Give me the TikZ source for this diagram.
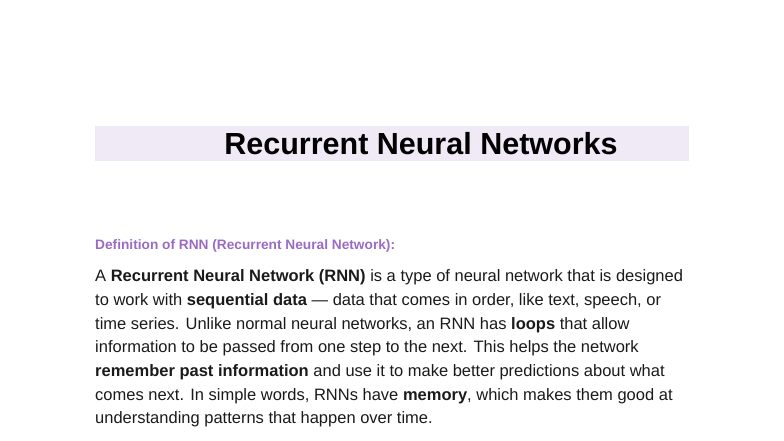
\documentclass[tikz,border=0pt]{standalone}
\usepackage{fontspec}
\setmainfont{Liberation Sans}
\definecolor{bar}{HTML}{F0EAF7}
\definecolor{head}{HTML}{9A6BC4}
\definecolor{body}{HTML}{1A1A1A}
\begin{document}
\begin{tikzpicture}[x=1pt,y=-1pt,
  ln/.style={anchor=base west,inner sep=0pt,text=body,font=\fontsize{16.5}{19}\selectfont}]
\useasboundingbox (0,0) rectangle (784,441);
\fill[bar] (95,126) rectangle (689,161);
\node[inner sep=0pt,font=\fontsize{30.5}{34}\selectfont\bfseries] (title) at (421,144) {Recurrent Neural Networks};
\node[anchor=base west,inner sep=0pt,text=head,font=\fontsize{13.7}{17}\selectfont\bfseries] (def) at (95,249) {Definition of RNN (Recurrent Neural Network):};
\node[ln] (l1) at (95,281.5) {A \textbf{Recurrent Neural Network (RNN)} is a type of neural network that is designed};
\node[ln] (l2) at (95,305) {to work with \textbf{sequential data} — data that comes in order, like text, speech, or};
\node[ln] (l3) at (95,329) {time series. Unlike normal neural networks, an RNN has \textbf{loops} that allow};
\node[ln] (l4) at (95,352.5) {information to be passed from one step to the next. This helps the network};
\node[ln] (l5) at (95,376) {\textbf{remember past information} and use it to make better predictions about what};
\node[ln] (l6) at (95,400) {comes next. In simple words, RNNs have \textbf{memory}, which makes them good at};
\node[ln] (l7) at (95,423.5) {understanding patterns that happen over time.};
\end{tikzpicture}
\end{document}
